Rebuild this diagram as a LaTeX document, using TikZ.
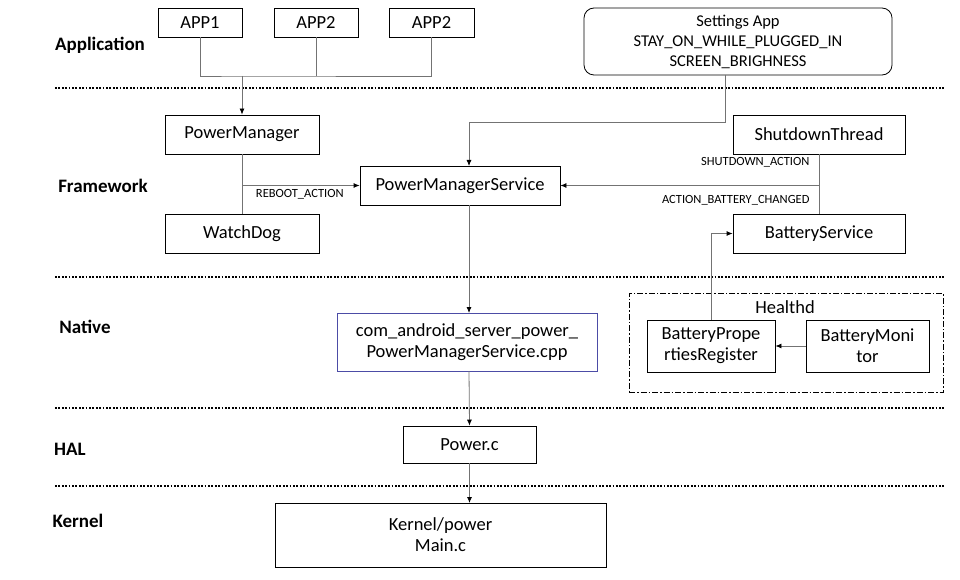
\documentclass[tikz,border=0pt]{standalone}
\usepackage{fontspec}
\setmainfont{Carlito}
\usetikzlibrary{arrows.meta}
\begin{document}
\begin{tikzpicture}[x=1pt,y=-1pt,
  box/.style={draw=black,thick,minimum height=#1,inner sep=2pt,align=center,font=\fontsize{18.5}{21}\selectfont},
  box/.default=39pt,
  ln/.style={draw=black!55,line width=0.8pt},
  arr/.style={ln,-{Latex[length=6pt,width=5pt,color=black]}},
  lay/.style={font=\bfseries\fontsize{19}{21}\selectfont},
  sep/.style={line width=1.8pt,dash pattern=on 1.8pt off 1.6pt},
  lab/.style={font=\fontsize{12.5}{14}\selectfont}]
\useasboundingbox (0,0) rectangle (960,580);
\foreach \y in {88,277,408,486} \draw[sep] (55,\y) -- (945,\y);
\node[lay] (lA) at (100,45) {Application};
\node[lay] (lF) at (103,186) {Framework};
\node[lay] (lN) at (85,327) {Native};
\node[lay] (lH) at (70,449) {HAL};
\node[lay] (lK) at (78,521) {Kernel};
\node[box=29pt,minimum width=84pt] (a1) at (200,22.5) {APP1};
\node[box=29pt,minimum width=84pt] (a2) at (316,22.5) {APP2};
\node[box=29pt,minimum width=85pt] (a3) at (431.5,22.5) {APP2};
\node[box=67pt,minimum width=308pt,rounded corners=10pt,font=\fontsize{16.5}{20}\selectfont] (set) at (738,41.5) {Settings App\\STAY\_ON\_WHILE\_PLUGGED\_IN\\SCREEN\_BRIGHNESS};
\node[box,minimum width=154pt] (pm) at (242,134.5) {PowerManager};
\node[box,minimum width=154pt] (wd) at (242,233.5) {WatchDog};
\node[box,minimum width=200pt] (pms) at (460,185.5) {PowerManagerService};
\node[box,minimum width=172pt] (st) at (819,134.5) {ShutdownThread};
\node[box,minimum width=172pt] (bs) at (819,233.5) {BatteryService};
\node[box=58pt,minimum width=260pt,draw=black!50!blue!70,line width=0.8pt] (nat) at (467,342) {com\_android\_server\_power\_\\PowerManagerService.cpp};
\node[box=37pt,minimum width=133pt] (pc) at (469.5,444.5) {Power.c};
\node[box=64pt,minimum width=331pt] (k) at (440.5,535) {Kernel/power\\Main.c};
\node[draw=black,thick,dash pattern=on 6pt off 2pt on 1.5pt off 2pt,minimum width=314pt,minimum height=99pt] (hd) at (786,342.5) {};
\node[font=\fontsize{18.5}{21}\selectfont] (hdl) at (785,307) {Healthd};
\node[box=52pt,minimum width=128pt] (bpr) at (711,346) {BatteryPrope\\rtiesRegister};
\node[box=52pt,minimum width=123pt] (bm) at (867.5,346) {BatteryMoni\\tor};
\coordinate (j) at (242,76);
\draw[ln] (a1.south) |- (j) -| (a3.south);
\draw[ln] (a2.south) -- (316,76);
\draw[arr,thick] (j) -- (pm.north);
\draw[ln] (pm.south) -- (wd.north);
\draw[arr] (242,185.5) -- (pms.west) node[lab,pos=0.5,below,xshift=-1pt] {REBOOT\_ACTION};
\coordinate (sb) at (725,75);
\draw[arr] (sb) |- (469,122) -- (469,166);
\draw[ln] (st.south) -- (bs.north);
\draw[arr] (819,185.5) -- (pms.east);
\node[lab,anchor=east] (sa) at (813,162) {SHUTDOWN\_ACTION};
\node[lab,anchor=east] (abc) at (813,200) {ACTION\_BATTERY\_CHANGED};
\draw[arr] (469,205) -- (469,313);
\draw[arr] (469,371) -- (pc.north);
\draw[arr] (pc.south) -- (469.5,503);
\draw[arr] (bm.west) -- (bpr.east);
\draw[arr] (bpr.north) |- (bs.west);
\end{tikzpicture}
\end{document}
